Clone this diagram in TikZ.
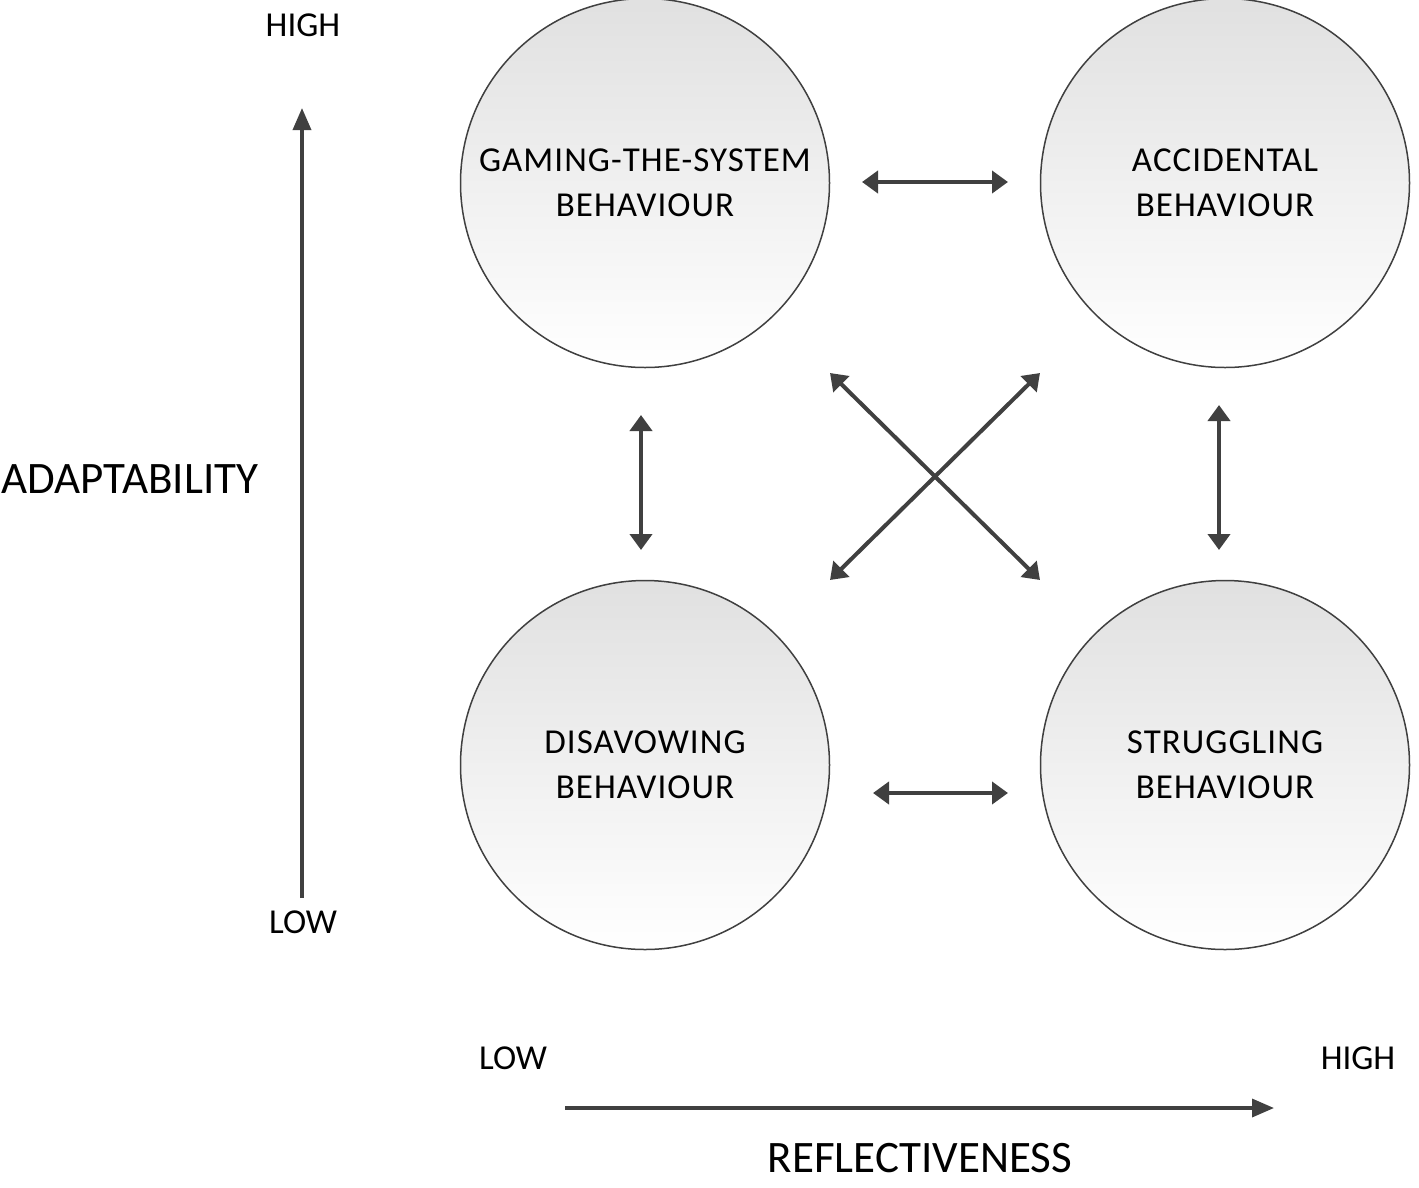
\documentclass[tikz,border=0pt]{standalone}
\usepackage{fontspec}
\setmainfont{Carlito}
\usetikzlibrary{arrows.meta}
\begin{document}
\begin{tikzpicture}[x=1pt,y=-1pt,
  circ/.style={circle,minimum size=369pt,draw=black!75,line width=1.5pt,top color=black!12,bottom color=white,align=center,font=\fontsize{35}{45}\selectfont\addfontfeatures{LetterSpace=3},inner sep=0pt,text depth=0pt},
  arr/.style={draw=black!75,line width=4pt,{Triangle[length=16pt,width=22pt]}-{Triangle[length=16pt,width=22pt]}},
  ax/.style={draw=black!75,line width=3.5pt,-{Triangle[length=22pt,width=18pt]}},
  lab/.style={font=\fontsize{35}{40}\selectfont}]
\useasboundingbox (0,0) rectangle (1419,1187);
\node[circ] (g) at (645,183) {GAMING-THE-SYSTEM\\BEHAVIOUR};
\node[circ] (a) at (1225,183) {ACCIDENTAL\\BEHAVIOUR};
\node[circ] (d) at (645,765) {DISAVOWING\\BEHAVIOUR};
\node[circ] (s) at (1225,765) {STRUGGLING\\BEHAVIOUR};
\coordinate (h1) at (862,182); \coordinate (h2) at (1008,182);
\coordinate (h3) at (873,793); \coordinate (h4) at (1008,793);
\coordinate (v1) at (641,415); \coordinate (v2) at (641,550);
\coordinate (v3) at (1219,405); \coordinate (v4) at (1219,550);
\coordinate (d1) at (830,373); \coordinate (d2) at (1040,580);
\coordinate (d3) at (830,580); \coordinate (d4) at (1040,373);
\draw[arr] (h1) -- (h2); \draw[arr] (h3) -- (h4);
\draw[arr] (v1) -- (v2); \draw[arr] (v3) -- (v4);
\draw[arr] (d1) -- (d2); \draw[arr] (d3) -- (d4);
\coordinate (y0) at (302,898); \coordinate (y1) at (302,108);
\coordinate (x0) at (565,1108); \coordinate (x1) at (1274,1108);
\draw[ax] (y0) -- (y1); \draw[ax] (x0) -- (x1);
\node[lab] (hy) at (303,25) {HIGH};
\node[lab] (ly) at (303,922) {LOW};
\node[font=\fontsize{45}{50}\selectfont] (ad) at (130,479) {ADAPTABILITY};
\node[lab] (lx) at (513,1058) {LOW};
\node[lab] (hx) at (1358,1058) {HIGH};
\node[font=\fontsize{45}{50}\selectfont] (rf) at (920,1158) {REFLECTIVENESS};
\end{tikzpicture}
\end{document}
